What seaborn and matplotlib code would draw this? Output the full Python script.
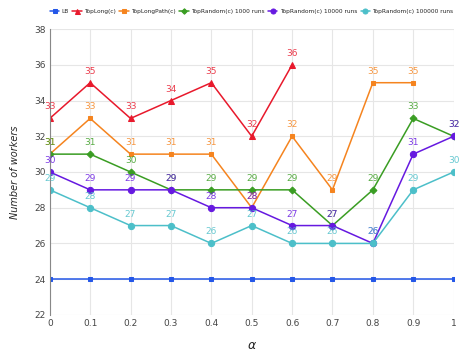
import seaborn as sns
import matplotlib.pyplot as plt
import pandas as pd
import numpy as np

# Данные
alpha = [0, 0.1, 0.2, 0.3, 0.4, 0.5, 0.6, 0.7, 0.8, 0.9, 1]
lb = [24, 24, 24, 24, 24, 24, 24, 24, 24, 24, 24]
top_long = [33, 35, 33, 34, 35, 32, 36, np.nan, np.nan, np.nan, np.nan]
top_long_path = [31, 33, 31, 31, 31, 28, 32, 29, 35, 35, np.nan]
rand_1000 = [31, 31, 30, 29, 29, 29, 29, 27, 29, 33, 32]
rand_10000 = [30, 29, 29, 29, 28, 28, 27, 27, 26, 31, 32]
rand_100000 = [29, 28, 27, 27, 26, 27, 26, 26, 26, 29, 30]

series = ['LB', 'TopLong(c)', 'TopLongPath(c)', 'TopRandom(c) 1000 runs',
          'TopRandom(c) 10000 runs', 'TopRandom(c) 100000 runs']
values = [lb, top_long, top_long_path, rand_1000, rand_10000, rand_100000]
labeled = [False, True, True, True, True, True]

colors = ['#2457e8', '#e8192c', '#f5841f', '#3a9d23', '#6619e0', '#4cbfc9']
markers = ['s', '^', 's', 'D', 'o', 'o']
msizes = [3.5, 4.5, 3.5, 3.5, 4.5, 4.5]

df = pd.DataFrame({'alpha': np.tile(alpha, len(series)),
                   'value': np.concatenate(values),
                   'series': np.repeat(series, len(alpha))})

sns.set_style("whitegrid")
fig, ax = plt.subplots(figsize=(4.74, 3.51), dpi=100)

for name, col, mk, ms, lab in zip(series, colors, markers, msizes, labeled):
    sub = df[df['series'] == name].dropna()
    sns.lineplot(data=sub, x='alpha', y='value', color=col, marker=mk,
                 markersize=ms, markeredgecolor=col, linewidth=1.1,
                 label=name, ax=ax)
    if lab:
        for x, y in zip(sub['alpha'], sub['value']):
            ax.annotate(f'{int(y)}', (x, y), xytext=(0, 5), textcoords='offset points',
                        ha='center', va='bottom', fontsize=6.5, color=col, alpha=0.85)

ax.set_xlim(0, 1)
ax.set_ylim(22, 38)
ax.set_xticks(alpha)
ax.set_xticklabels(['0', '0.1', '0.2', '0.3', '0.4', '0.5', '0.6', '0.7', '0.8', '0.9', '1'])
ax.set_yticks(range(22, 39, 2))
ax.tick_params(labelsize=6.5, colors='#444444', pad=3, length=0)
ax.set_xlabel('α', fontsize=9, style='italic', labelpad=8)
ax.set_ylabel('Number of workers', fontsize=7, style='italic', labelpad=10)
ax.grid(color='#e6e6e6', linewidth=0.8)
for s in ['top', 'right', 'bottom']:
    ax.spines[s].set_visible(False)
ax.spines['left'].set_color('#888888')
ax.spines['left'].set_linewidth(0.8)

ax.legend(loc='lower center', bbox_to_anchor=(0.5, 1.035), ncol=6, fontsize=4.2,
          frameon=False, handlelength=1.6, handletextpad=0.4, columnspacing=0.6,
          markerscale=0.8)

plt.subplots_adjust(left=0.105, right=0.957, top=0.917, bottom=0.103)
plt.savefig('out.png', dpi=100)
